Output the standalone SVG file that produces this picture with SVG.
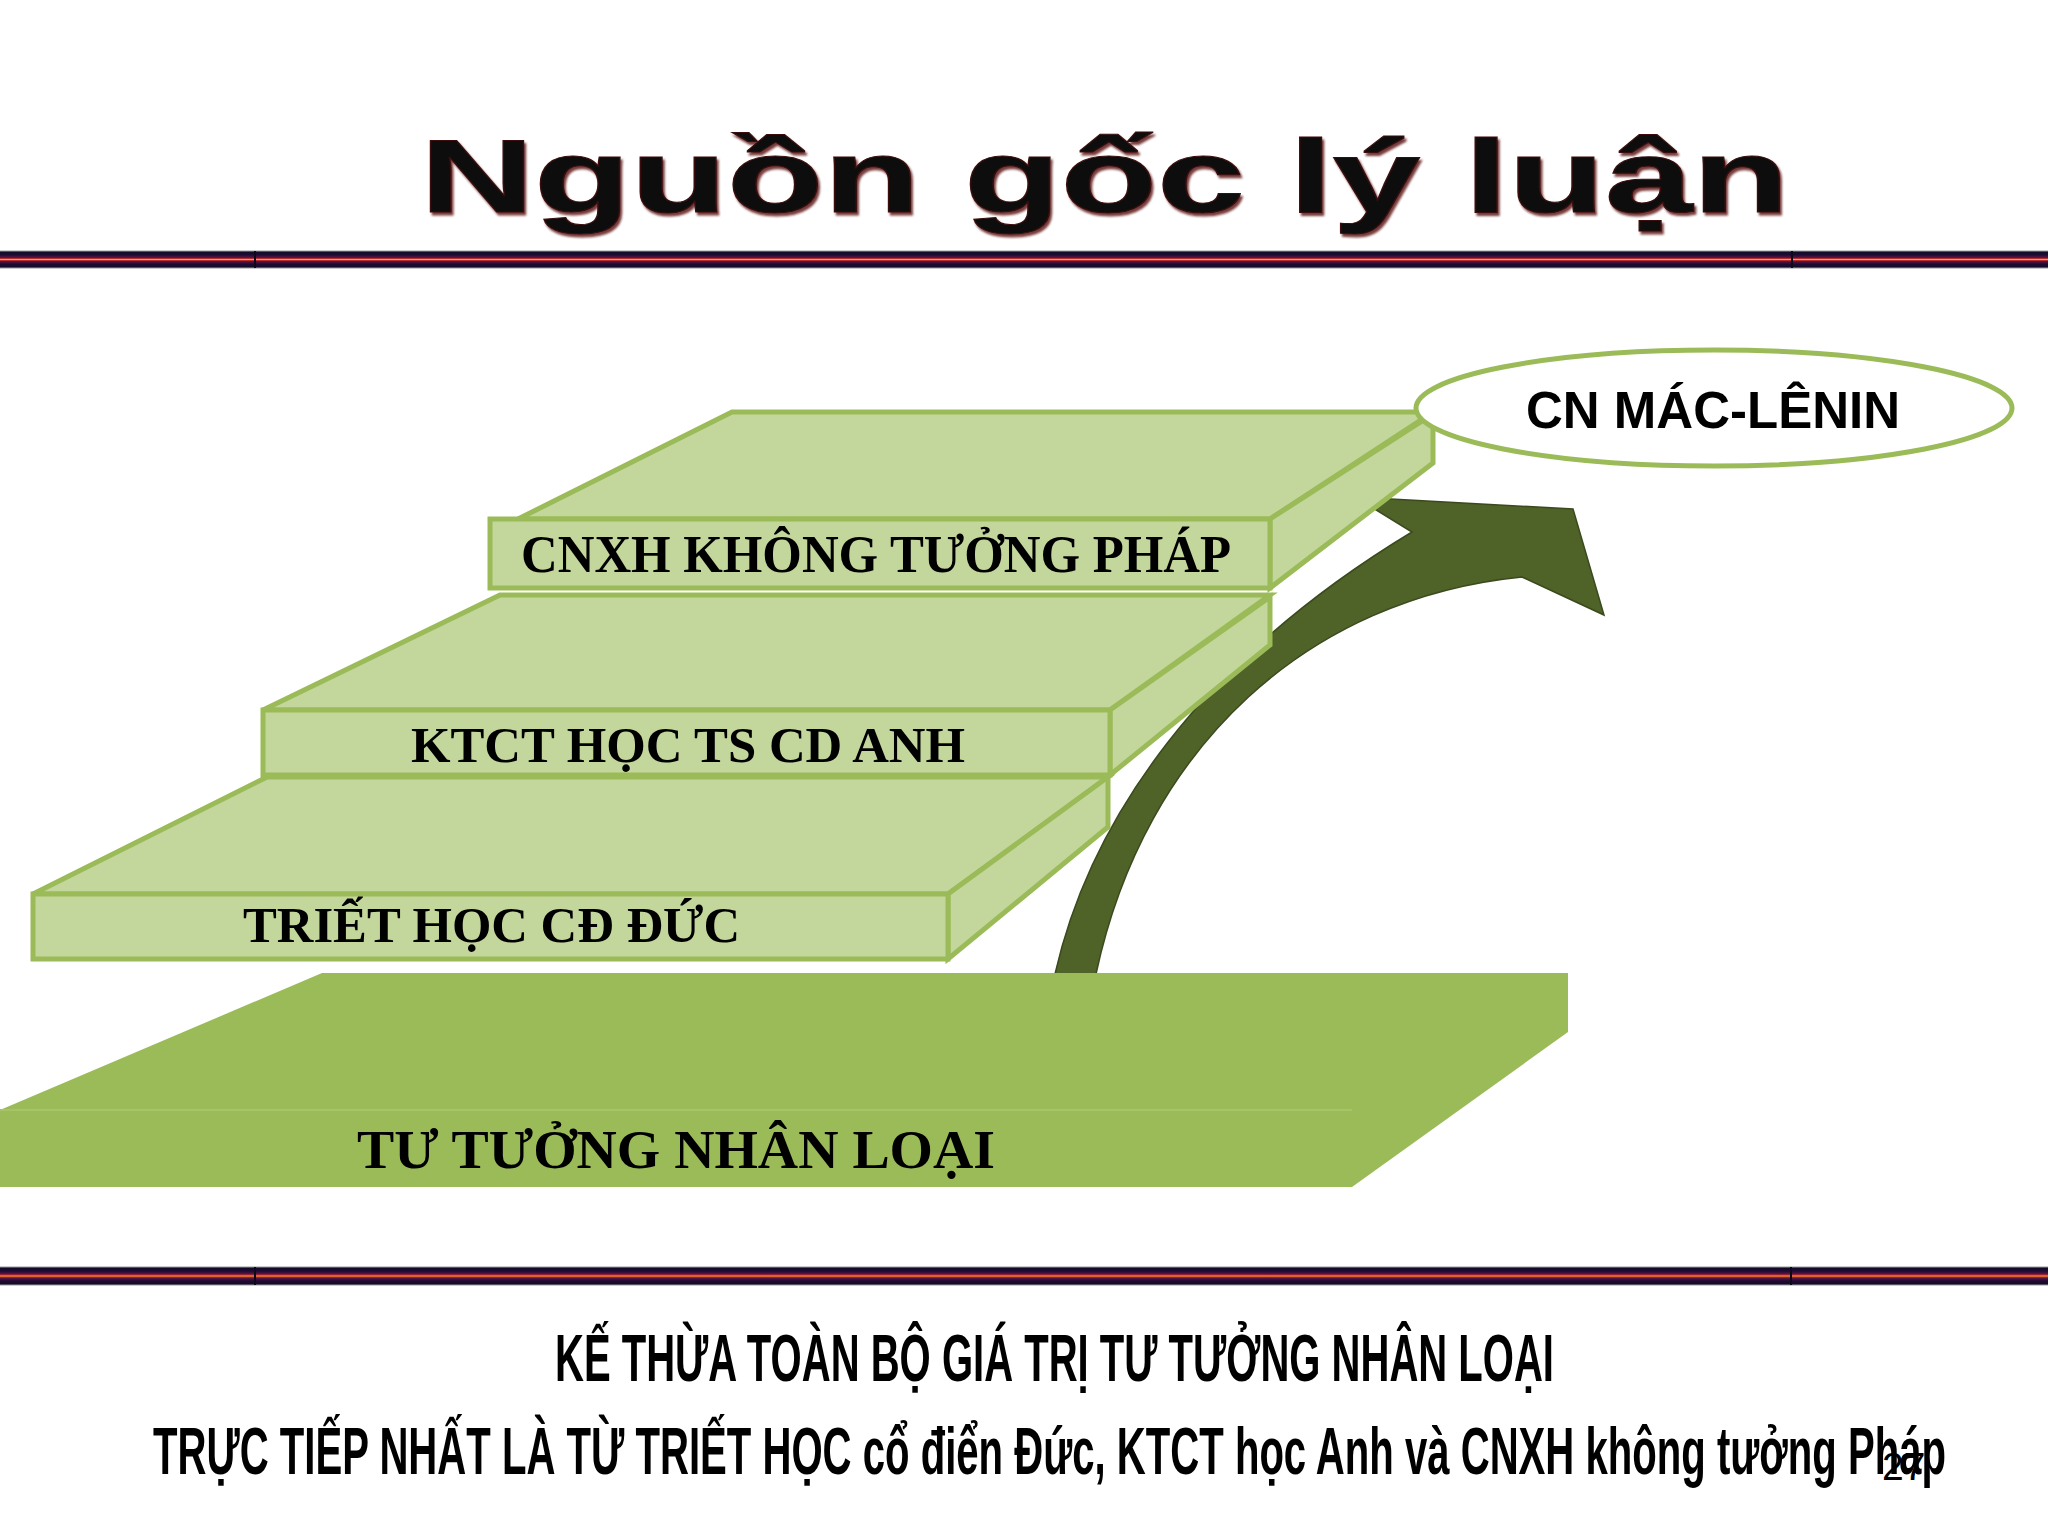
<svg xmlns="http://www.w3.org/2000/svg" width="2048" height="1536" viewBox="0 0 2048 1536">
  <defs>
    <linearGradient id="band" x1="0" y1="0" x2="0" y2="1">
      <stop offset="0" stop-color="#0c0c24"/>
      <stop offset="0.22" stop-color="#1e0a34"/>
      <stop offset="0.38" stop-color="#5a1240"/>
      <stop offset="0.45" stop-color="#c2302a"/>
      <stop offset="0.5" stop-color="#f6a437"/>
      <stop offset="0.55" stop-color="#c2302a"/>
      <stop offset="0.62" stop-color="#5a1240"/>
      <stop offset="0.78" stop-color="#1e0a34"/>
      <stop offset="1" stop-color="#0c0c24"/>
    </linearGradient>
    <filter id="titleShadow" x="-5%" y="-20%" width="110%" height="140%">
      <feDropShadow dx="2" dy="3" stdDeviation="1.2" flood-color="#5e1414" flood-opacity="0.85"/>
    </filter>
    <style>
      .slab { fill: #C3D69B; stroke: #9BBB59; stroke-width: 5; stroke-linejoin: miter; }
      .slabText { font-family: "Liberation Serif", "Times New Roman", serif; font-weight: bold; fill: #000; }
      .footer { font-family: "Liberation Sans", Arial, sans-serif; font-weight: bold; fill: #000; }
      .rule { fill: url(#band); stroke: #9a9a9a; stroke-width: 1; }
      .ruleTick { stroke: #0a0a1a; stroke-width: 2; }
    </style>
  </defs>

  <rect x="0" y="0" width="2048" height="1536" fill="#ffffff"/>

  <!-- Title -->
  <g id="title">
    <text x="420" y="212" font-family="'Liberation Sans', Arial, sans-serif" font-weight="bold" font-size="104" fill="#111111" stroke="#3a0d0d" stroke-width="1" textLength="1369" lengthAdjust="spacingAndGlyphs" filter="url(#titleShadow)">Nguồn gốc lý luận</text>
  </g>

  <!-- Header rule -->
  <g id="header-rule">
    <rect class="rule" x="-1" y="251" width="2050" height="17"/>
    <line class="ruleTick" x1="255" y1="251" x2="255" y2="268"/>
    <line class="ruleTick" x1="1792" y1="251" x2="1792" y2="268"/>
  </g>

  <!-- Connector: rising curved arrow -->
  <g id="connectors">
    <path id="arrow-rise" d="M1055,974 C1090,820 1200,660 1412,532 L1355,497 L1573,509 L1604,615 L1522,577 C1310,598 1145,745 1096,974 Z" fill="#4F6228" stroke="#3b4a1e" stroke-width="1.5" stroke-linejoin="miter"/>
  </g>

  <!-- Bottom slab: TƯ TƯỞNG NHÂN LOẠI -->
  <g id="slab-tu-tuong-nhan-loai">
    <polygon points="0,1110 322,973 1568,973 1568,1032 1352,1187 0,1187" fill="#9BBB59"/>
    <line x1="0" y1="1110" x2="1352" y2="1110" stroke="#a6c367" stroke-width="2"/>
    <text class="slabText" x="357" y="1168" font-size="54" textLength="638" lengthAdjust="spacingAndGlyphs">TƯ TƯỞNG NHÂN LOẠI</text>
  </g>

  <!-- Lower slab: TRIẾT HỌC CĐ ĐỨC -->
  <g id="slab-triet-hoc-cd-duc">
    <polygon class="slab" points="33,894 267,777 1108,777 948,894"/>
    <polygon class="slab" points="948,894 1108,777 1108,827 948,959"/>
    <rect class="slab" x="33" y="894" width="915" height="65"/>
    <text class="slabText" x="243" y="942" font-size="51" textLength="497" lengthAdjust="spacingAndGlyphs">TRIẾT HỌC CĐ ĐỨC</text>
  </g>

  <!-- Middle slab: KTCT HỌC TS CD ANH -->
  <g id="slab-ktct-hoc-ts-cd-anh">
    <polygon class="slab" points="263,710 500,595 1270,595 1110,710"/>
    <polygon class="slab" points="1110,710 1270,597 1270,645 1110,775"/>
    <rect class="slab" x="263" y="710" width="847" height="65"/>
    <text class="slabText" x="411" y="762" font-size="51" textLength="554" lengthAdjust="spacingAndGlyphs">KTCT HỌC TS CD ANH</text>
  </g>

  <!-- Top slab: CNXH KHÔNG TƯỞNG PHÁP -->
  <g id="slab-cnxh-khong-tuong-phap">
    <polygon class="slab" points="518,519 732,412 1433,412 1270,519"/>
    <polygon class="slab" points="1270,519 1433,414 1433,463 1270,588"/>
    <rect class="slab" x="490" y="519" width="780" height="69"/>
    <text class="slabText" x="521" y="572" font-size="52" textLength="710" lengthAdjust="spacingAndGlyphs">CNXH KHÔNG TƯỞNG PHÁP</text>
  </g>

  <!-- Ellipse node: CN MÁC-LÊNIN -->
  <g id="node-cn-mac-lenin">
    <ellipse cx="1714" cy="408" rx="298" ry="58" fill="#ffffff" stroke="#9BBB59" stroke-width="5"/>
    <text x="1713" y="428" text-anchor="middle" font-family="'Liberation Sans', Arial, sans-serif" font-weight="bold" font-size="51" fill="#000000">CN MÁC-LÊNIN</text>
  </g>

  <!-- Footer rule -->
  <g id="footer-rule">
    <rect class="rule" x="-1" y="1267" width="2050" height="18"/>
    <line class="ruleTick" x1="255" y1="1267" x2="255" y2="1285"/>
    <line class="ruleTick" x1="1791" y1="1267" x2="1791" y2="1285"/>
  </g>

  <!-- Footer texts -->
  <g id="footer-text">
    <text class="footer" x="555" y="1381" font-size="67" textLength="999" lengthAdjust="spacingAndGlyphs">KẾ THỪA TOÀN BỘ GIÁ TRỊ TƯ TƯỞNG NHÂN LOẠI</text>
    <text class="footer" x="153" y="1474" font-size="67" textLength="1793" lengthAdjust="spacingAndGlyphs">TRỰC TIẾP NHẤT LÀ TỪ TRIẾT HỌC cổ điển Đức, KTCT học Anh và CNXH không tưởng Pháp</text>
    <text x="1882" y="1480" font-family="'Liberation Sans', Arial, sans-serif" font-size="39" fill="#000000">27</text>
  </g>
</svg>
